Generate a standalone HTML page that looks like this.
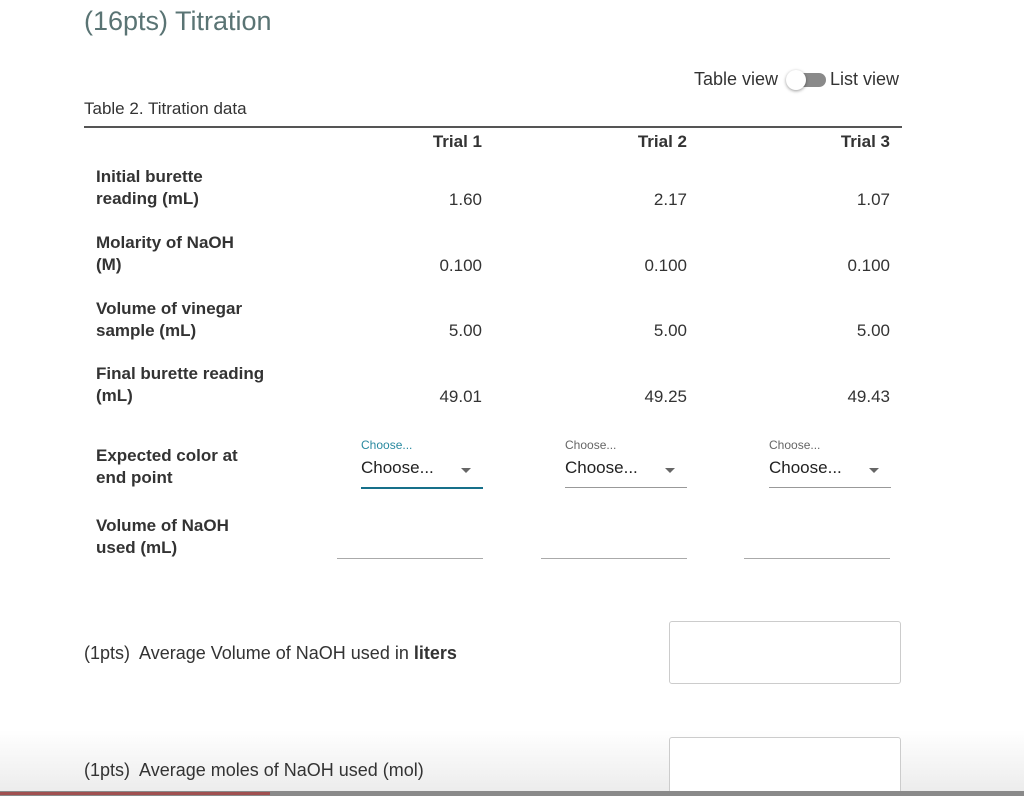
<!DOCTYPE html>
<html style="width:1024px;height:796px;overflow:hidden"><head><meta charset="utf-8">
<style>
body{margin:0;width:1024px;height:796px;overflow:hidden;background:#fff;font-family:"Liberation Sans",sans-serif;color:#222;position:relative}
.a{position:absolute;white-space:nowrap}
.lbl{font-weight:bold;font-size:17px;line-height:22px;color:#333}
.val{font-size:17px;color:#333;text-align:right;width:100px}
.th{font-weight:bold;font-size:17px;color:#333;text-align:right;width:100px}
.sel{position:absolute;width:146px;height:60px}
.sel .sm{position:absolute;left:0;top:0;font-size:12px;color:#666}
.sel .big{position:absolute;left:0;top:20px;font-size:17px;color:#222}
.sel .arr{position:absolute;left:100px;top:30px;width:0;height:0;border-left:5px solid transparent;border-right:5px solid transparent;border-top:5px solid #666}
.sel .ln{position:absolute;left:0;top:49px;width:122px;height:1px;background:#999}
.in{position:absolute;height:1px;background:#aaa;width:146px}
.box{position:absolute;border:1px solid #ccc;border-radius:3px;background:#fff}
</style></head><body>
<div class="a" style="left:84px;top:6px;font-size:27px;color:#5a7474">(16pts) Titration</div>
<div class="a" style="left:694px;top:69px;font-size:18px;color:#333">Table view</div>
<div class="a" style="left:786px;top:70px;width:40px;height:18px">
 <div style="position:absolute;left:10px;top:3px;width:30px;height:14px;border-radius:7px;background:#8a8a8a"></div>
 <div style="position:absolute;left:0;top:0;width:20px;height:20px;border-radius:50%;background:#fff;box-shadow:0 1px 3px rgba(0,0,0,.4)"></div>
</div>
<div class="a" style="left:830px;top:69px;font-size:18px;color:#333">List view</div>
<div class="a" style="left:84px;top:99px;font-size:17px;color:#333">Table 2. Titration data</div>
<div class="a" style="left:84px;top:126px;width:818px;height:2px;background:#555"></div>
<div class="a th" style="left:382px;top:132px">Trial 1</div>
<div class="a th" style="left:587px;top:132px">Trial 2</div>
<div class="a th" style="left:790px;top:132px">Trial 3</div>

<div class="a lbl" style="left:96px;top:166px">Initial burette<br>reading (mL)</div>
<div class="a val" style="left:382px;top:190px">1.60</div>
<div class="a val" style="left:587px;top:190px">2.17</div>
<div class="a val" style="left:790px;top:190px">1.07</div>

<div class="a lbl" style="left:96px;top:232px">Molarity of NaOH<br>(M)</div>
<div class="a val" style="left:382px;top:256px">0.100</div>
<div class="a val" style="left:587px;top:256px">0.100</div>
<div class="a val" style="left:790px;top:256px">0.100</div>

<div class="a lbl" style="left:96px;top:298px">Volume of vinegar<br>sample (mL)</div>
<div class="a val" style="left:382px;top:321px">5.00</div>
<div class="a val" style="left:587px;top:321px">5.00</div>
<div class="a val" style="left:790px;top:321px">5.00</div>

<div class="a lbl" style="left:96px;top:363px">Final burette reading<br>(mL)</div>
<div class="a val" style="left:382px;top:387px">49.01</div>
<div class="a val" style="left:587px;top:387px">49.25</div>
<div class="a val" style="left:790px;top:387px">49.43</div>

<div class="a lbl" style="left:96px;top:445px">Expected color at<br>end point</div>
<div class="sel" style="left:361px;top:438px">
 <div class="sm" style="color:#2a8aa0">Choose...</div><div class="big">Choose...</div><div class="arr"></div><div class="ln" style="height:2px;background:#16708a"></div></div>
<div class="sel" style="left:565px;top:438px">
 <div class="sm">Choose...</div><div class="big">Choose...</div><div class="arr"></div><div class="ln"></div></div>
<div class="sel" style="left:769px;top:438px">
 <div class="sm">Choose...</div><div class="big">Choose...</div><div class="arr"></div><div class="ln"></div></div>

<div class="a lbl" style="left:96px;top:515px">Volume of NaOH<br>used (mL)</div>
<div class="in" style="left:337px;top:558px"></div>
<div class="in" style="left:541px;top:558px"></div>
<div class="in" style="left:744px;top:558px"></div>

<div class="a" style="left:84px;top:643px;font-size:18px;color:#333">(1pts)&nbsp; Average Volume of NaOH used in <b>liters</b></div>
<div class="box" style="left:669px;top:621px;width:230px;height:61px"></div>

<div class="a" style="left:0;top:730px;width:1024px;height:62px;background:linear-gradient(#fff,#ececec)"></div>
<div class="a" style="left:84px;top:760px;font-size:18px;color:#333">(1pts)&nbsp; Average moles of NaOH used (mol)</div>
<div class="box" style="left:669px;top:737px;width:230px;height:60px"></div>
<div class="a" style="left:0;top:791px;width:1024px;height:5px;background:#8a8a8a"></div>
<div class="a" style="left:0;top:792px;width:270px;height:3px;background:#a05050"></div>
</body></html>
